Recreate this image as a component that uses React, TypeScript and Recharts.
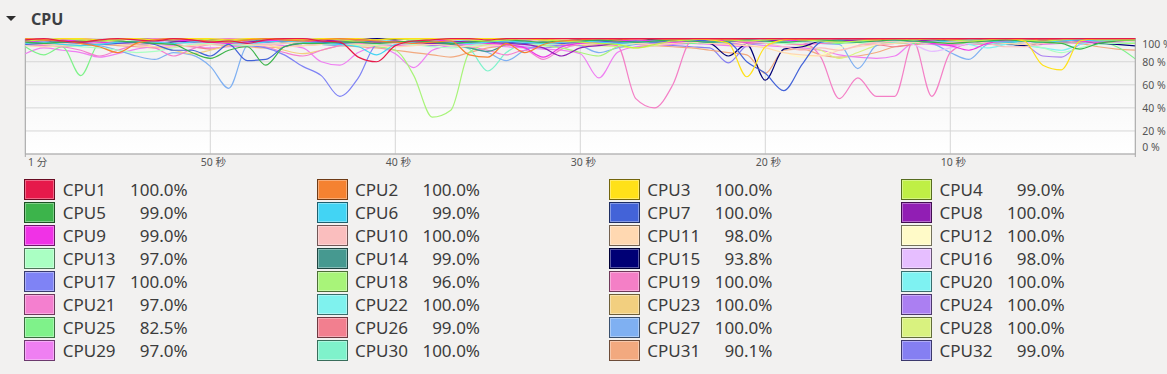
import { LineChart, Line, XAxis, YAxis, CartesianGrid, ReferenceLine } from "recharts";

// CPU usage history, one sample per second, oldest (1 minute ago) first
const cpu1 = [99,100,98,97,99,100,99,98,100,99, 97,98,96,99,100,100,98,97,84,80, 94,98,99,100,100,99,100,100,100,100, 100,100,100,100,100,100,100,100,100,100, 100,100,100,100,100,100,100,100,100,100, 100,100,100,100,100,100,100,100,100,100, 100];
const cpu2 = [100,99,98,96,93,88,96,99,100,99, 98,97,99,100,99,98,99,100,99,98, 97,96,97,98,86,84,96,88,95,98, 99,100,99,100,100,99,100,100,99,100, 100,100,99,100,100,100,99,100,100,100, 99,100,100,100,100,99,100,100,100,100, 100];
const cpu3 = [100,99,100,100,99,100,100,99,100,100, 100,99,100,100,100,99,100,100,100,99, 100,100,100,99,100,100,100,100,99,100, 100,100,100,100,100,100,100,99,96,67, 93,99,100,100,100,100,100,100,100,100, 100,100,100,100,98,77,73,98,100,100, 100];
const cpu4 = [98,99,100,99,98,99,100,99,99,100, 99,98,99,100,99,99,100,99,98,99, 100,99,99,100,99,98,99,100,99,98, 97,96,95,92,95,98,99,100,99,98, 99,100,99,98,97,98,99,100,99,100, 99,98,99,100,99,98,99,100,99,99, 99];
const cpu5 = [97,96,97,98,99,98,97,96,95,88, 83,90,93,77,93,96,96,97,97,96, 97,98,97,96,97,98,99,98,97,98, 98,99,98,97,98,99,98,97,98,99, 98,97,98,99,98,97,98,99,98,97, 96,97,98,99,98,97,96,91,96,98, 99];
const cpu6 = [96,97,95,94,95,97,98,97,96,97, 98,97,96,97,98,97,96,95,93,86, 95,97,98,97,96,97,98,97,96,97, 98,97,96,97,98,99,98,97,98,99, 98,97,98,99,98,97,98,99,98,97, 98,99,98,97,98,97,98,99,98,99, 99];
const cpu7 = [95,96,97,96,95,96,97,95,90,90, 85,95,81,82,93,96,97,96,97,98, 97,98,97,96,97,98,97,96,97,96, 97,98,97,98,97,98,99,98,97,80, 70,55,78,97,99,100,99,100,99,100, 99,100,99,100,100,99,100,100,100,100, 100];
const cpu8 = [98,99,98,97,98,99,100,99,98,97, 98,99,98,97,98,99,98,99,98,97, 98,97,96,97,98,97,96,95,92,85, 92,94,96,97,98,99,98,97,98,99, 98,99,100,99,98,99,100,99,98,99, 100,99,98,99,100,99,98,99,100,100, 100];
const cpu9 = [97,98,99,98,97,96,97,98,99,98, 97,96,97,98,99,98,97,98,99,98, 97,98,99,98,97,96,95,92,84,93, 96,97,98,99,98,97,98,99,98,97, 98,99,98,99,100,99,98,99,98,96, 94,90,96,98,99,98,99,98,97,98, 99];
const cpu10 = [96,95,96,97,98,97,96,95,96,97, 98,97,96,95,96,97,98,99,98,97, 96,97,98,97,96,97,98,99,98,97, 96,97,98,99,98,97,98,99,98,97, 96,93,90,92,90,94,97,98,99,98, 97,98,96,93,93,96,98,99,100,100, 100];
const cpu11 = [94,93,94,95,96,95,94,93,93,94, 95,96,95,94,93,94,95,96,95,94, 93,94,95,94,93,94,95,96,97,96, 95,96,97,96,95,96,97,96,95,94, 92,88,86,85,90,93,95,96,97,96, 97,98,97,96,95,96,97,98,97,98, 98];
const cpu12 = [98,97,96,97,98,99,98,97,96,97, 98,99,98,97,96,97,98,99,98,97, 98,99,98,97,98,99,98,97,98,99, 98,97,98,99,98,97,98,99,98,95, 92,88,84,86,92,96,98,99,98,99, 100,99,98,99,100,99,98,99,100,100, 100];
const cpu13 = [96,95,94,93,92,90,88,89,92,95, 96,95,94,95,96,97,96,95,94,95, 96,95,93,92,94,96,97,96,95,96, 97,96,95,96,97,98,97,96,97,98, 97,96,97,98,97,96,97,98,97,96, 97,98,97,96,95,92,88,92,95,96, 97];
const cpu14 = [99,98,97,98,99,98,97,98,99,98, 97,98,99,98,97,98,99,98,97,96, 97,98,96,95,92,89,95,97,98,97, 98,99,98,97,98,99,98,97,98,99, 98,99,100,99,98,99,100,99,98,99, 98,99,98,97,98,97,98,99,98,99, 99];
const cpu15 = [98,99,98,97,98,99,97,96,97,98, 99,98,99,100,99,98,99,98,99,100, 99,98,96,96,97,98,99,98,99,98, 99,98,99,100,99,98,97,96,85,95, 64,91,93,98,99,100,99,100,99,98, 99,98,97,96,94,96,97,98,96,95, 93.8];
const cpu16 = [97,98,97,96,97,98,99,98,97,96, 97,98,97,96,97,98,97,96,97,98, 97,96,97,98,97,96,95,94,95,96, 97,96,95,96,97,98,97,96,97,98, 97,98,97,98,97,96,97,98,95,89, 92,96,97,98,97,96,97,98,97,98, 98];
const cpu17 = [98,97,96,97,98,97,96,95,96,97, 96,95,94,92,86,76,68,50,66,95, 97,98,97,96,97,98,99,98,97,98, 99,98,97,98,99,100,99,98,99,98, 99,100,99,98,99,100,99,98,99,100, 99,98,99,100,99,98,99,100,100,100, 100];
const cpu18 = [97,96,97,98,97,96,97,98,97,96, 97,98,97,96,97,98,97,96,95,93, 90,68,32,38,88,95,96,95,94,92, 88,85,93,96,97,98,97,96,97,98, 97,96,97,98,97,96,97,96,97,98, 97,96,97,98,97,96,97,98,97,96, 96];
const cpu19 = [99,98,99,100,99,98,99,100,99,98, 99,100,99,98,99,100,99,98,99,100, 99,98,99,100,99,98,99,98,97,98, 97,95,94,48,40,60,98,99,100,99, 98,99,97,84,48,66,50,50,98,50, 88,96,98,99,100,99,98,99,100,100, 100];
const cpu20 = [98,99,98,97,98,99,100,99,98,97, 98,99,98,97,98,99,98,97,98,99, 98,97,98,99,98,97,98,99,98,97, 98,99,98,97,98,99,98,97,98,99, 98,99,98,97,98,99,98,97,98,99, 98,97,96,95,94,92,90,95,98,99, 100];
const cpu21 = [95,94,93,90,85,90,94,92,85,91, 95,96,95,93,88,85,90,94,96,95, 94,95,96,95,93,90,86,90,82,91, 95,96,97,96,95,96,97,96,95,96, 97,96,95,96,97,96,95,96,97,96, 95,96,97,96,95,96,97,96,97,96, 97];
const cpu22 = [99,98,97,98,99,98,97,98,99,98, 97,96,97,98,99,98,97,96,95,94, 96,98,99,98,97,98,99,98,97,98, 99,98,97,98,99,98,97,98,99,98, 99,98,97,98,99,98,97,98,99,98, 97,95,92,95,98,99,98,99,100,100, 100];
const cpu23 = [97,96,95,96,97,96,95,93,90,87, 90,94,96,95,90,87,90,94,96,97, 98,97,96,97,98,97,96,97,98,99, 98,97,98,99,98,97,98,99,98,97, 98,99,98,99,98,99,100,99,98,99, 100,99,98,99,100,99,100,100,100,100, 100];
const cpu24 = [98,97,98,99,98,97,96,97,98,97, 96,97,98,97,96,97,98,99,98,97, 96,95,94,95,96,97,95,93,92,94, 96,97,98,97,96,97,98,97,96,95, 96,97,98,99,98,97,98,99,98,97, 98,99,98,97,95,85,84,95,98,99, 100];
const cpu25 = [93,86,93,68,96,97,96,95,96,97, 98,97,96,97,98,97,96,97,98,97, 96,97,98,97,96,97,98,97,96,97, 98,97,96,97,98,97,96,97,98,97, 96,97,98,97,96,97,98,97,96,97, 98,97,96,97,98,97,96,97,97,93, 82.5];
const cpu26 = [97,98,97,96,97,98,97,96,95,93, 91,94,97,98,97,96,97,98,97,96, 97,98,97,96,97,98,97,96,97,98, 97,96,97,98,97,96,97,98,97,96, 97,98,97,96,97,96,95,93,95,97, 98,97,96,97,98,97,98,99,98,99, 99];
const cpu27 = [94,95,96,95,94,90,85,82,88,86, 76,57,94,96,97,96,95,94,95,96, 97,96,95,94,92,88,81,90,95,96, 94,88,92,95,96,97,96,97,98,97, 96,97,98,96,95,74,94,97,98,96, 88,82,95,97,98,99,98,99,100,100, 100];
const cpu28 = [99,98,99,100,99,98,99,100,99,98, 99,100,99,98,99,100,99,98,99,100, 99,98,99,100,99,98,97,96,97,96, 95,94,93,92,94,96,97,98,99,98, 97,96,94,90,83,88,94,97,98,99, 98,99,100,99,98,99,100,99,100,100, 100];
const cpu29 = [87,92,90,88,84,87,91,93,94,93, 92,93,94,95,94,92,80,77,88,93, 87,75,90,94,95,94,93,92,91,90, 87,66,88,93,94,95,96,95,94,93, 94,93,92,90,86,84,83,85,96,95, 94,95,96,95,94,95,96,97,96,97, 97];
const cpu30 = [98,97,98,99,98,97,98,99,98,97, 98,99,98,97,98,99,98,97,96,97, 98,97,96,95,91,72,88,96,98,99, 98,97,98,99,98,97,98,99,98,97, 98,99,98,97,98,99,98,97,98,99, 98,99,98,97,98,99,98,99,100,100, 100];
const cpu31 = [95,94,93,94,95,94,93,92,93,94, 95,94,93,92,93,94,95,94,93,92, 90,88,86,84,88,92,94,95,96,95, 94,95,96,95,94,93,92,90,88,86, 70,90,91,86,84,85,88,93,95,96, 97,96,95,96,97,96,97,96,93,91, 90.1];
const cpu32 = [97,96,97,98,97,96,95,96,97,98, 97,96,97,98,97,96,97,98,97,96, 97,98,97,96,97,98,97,96,95,94, 95,96,97,96,95,94,93,92,79,94, 97,98,97,96,97,98,97,96,97,98, 97,96,97,98,97,96,97,98,97,98, 99];

const cpuSeries = [
  cpu1, cpu2, cpu3, cpu4, cpu5, cpu6, cpu7, cpu8,
  cpu9, cpu10, cpu11, cpu12, cpu13, cpu14, cpu15, cpu16,
  cpu17, cpu18, cpu19, cpu20, cpu21, cpu22, cpu23, cpu24,
  cpu25, cpu26, cpu27, cpu28, cpu29, cpu30, cpu31, cpu32,
];

const cpuColors = [
  "#e6194b", "#f58231", "#ffe119", "#bfef45", "#3cb44b", "#42d4f4", "#4363d8", "#911eb4",
  "#f032e6", "#fabebe", "#ffd8b1", "#fffac8", "#aaffc3", "#469990", "#000075", "#e6beff",
  "#7f83f5", "#a8f479", "#f47fc6", "#7ef2f2", "#f47fcf", "#7ff2ee", "#f2cf7f", "#ab7ff2",
  "#7ff28a", "#f27f8f", "#7fb0f2", "#d9f27f", "#ef7ff2", "#7ff2cb", "#f2a97f", "#857ff2",
];

const timeTicks = [0, 10, 20, 30, 40, 50, 60];
const timeLabels = ["1 分", "50 秒", "40 秒", "30 秒", "20 秒", "10 秒", ""];
const pctTicks = [0, 20, 40, 60, 80, 100];
const pctLabels = ["0 %", "20 %", "40 %", "60 %", "80 %", "100 %"];

const rows = cpu1.map((_, i) => {
  const row: Record<string, number> = { t: i };
  cpuSeries.forEach((s, k) => {
    row[`cpu${k + 1}`] = s[i];
  });
  return row;
});

const FONT = "'Noto Sans', 'Noto Sans CJK JP', sans-serif";

function darken(hex: string, f: number) {
  const n = parseInt(hex.slice(1), 16);
  const r = Math.round(((n >> 16) & 255) * f);
  const g = Math.round(((n >> 8) & 255) * f);
  const b = Math.round((n & 255) * f);
  return `rgb(${r},${g},${b})`;
}

const TimeTick = (props: any) => {
  const { x, y, payload } = props;
  const idx = timeTicks.indexOf(payload.value);
  const first = idx === 0;
  return (
    <g>
      {(first || payload.value === 60) && (
        <line x1={x} x2={x} y1={y} y2={y + 3} stroke="#a8a8a8" />
      )}
      <text
        x={first ? x + 2.7 : x + 3}
        y={y + 11.5}
        textAnchor={first ? "start" : "middle"}
        fontSize={10.5}
        fontFamily={FONT}
        fill="#555"
      >
        {timeLabels[idx]}
      </text>
    </g>
  );
};

const PctTick = (props: any) => {
  const { x, y, payload } = props;
  const idx = pctTicks.indexOf(payload.value);
  let dy = 4;
  if (payload.value === 100) dy = 9;
  if (payload.value === 0) dy = -3;
  return (
    <text x={x + 7} y={y + dy} fontSize={10.5} fontFamily={FONT} fill="#555">
      {pctLabels[idx]}
    </text>
  );
};

export default function App() {
  return (
    <div
      style={{
        position: "absolute",
        left: 0,
        top: 0,
        width: 1167,
        height: 374,
        background: "#f2f1f0",
        overflow: "hidden",
        fontFamily: FONT,
      }}
    >
      {/* header */}
      <svg style={{ position: "absolute", left: 0, top: 0 }} width={30} height={30}>
        <polygon points="6,16 16,16 11,21" fill="#2e2e2e" />
      </svg>
      <div
        style={{
          position: "absolute",
          left: 31,
          top: 7,
          fontSize: 16,
          fontWeight: 700,
          color: "#3c3f44",
          lineHeight: "24px",
        }}
      >
        CPU
      </div>

      <div style={{ position: "absolute", left: 0, top: 0 }}>
        <LineChart
          width={1167}
          height={176}
          data={rows}
          margin={{ top: 38.7, right: 0, bottom: 0, left: 25.3 }}
        >
          <defs>
            <linearGradient id="plotBg" x1="0" y1="0" x2="0" y2="1">
              <stop offset="0%" stopColor="#f1f1f1" />
              <stop offset="100%" stopColor="#ffffff" />
            </linearGradient>
          </defs>
          <CartesianGrid stroke="#d6d6d6" fill="url(#plotBg)" />
          <XAxis
            dataKey="t"
            type="number"
            domain={[0, 60]}
            ticks={timeTicks}
            height={22}
            tickSize={0}
            tickMargin={0}
            tickLine={false}
            axisLine={{ stroke: "#a8a8a8" }}
            tick={<TimeTick />}
            interval={0}
          />
          <YAxis
            orientation="right"
            domain={[0, 100]}
            ticks={pctTicks}
            width={31.7}
            tickSize={0}
            tickMargin={0}
            tickLine={false}
            axisLine={{ stroke: "#a8a8a8" }}
            tick={<PctTick />}
            interval={0}
          />
          <ReferenceLine x={0} stroke="#a8a8a8" />
          {cpuSeries
            .map((_, k) => k)
            .reverse()
            .map((k) => (
              <Line
                key={k}
                type="monotone"
                dataKey={`cpu${k + 1}`}
                stroke={cpuColors[k]}
                strokeWidth={1.2}
                dot={false}
                activeDot={false}
                isAnimationActive={false}
              />
            ))}
        </LineChart>
      </div>

      {/* legend */}
      {cpuSeries.map((s, k) => {
        const col = k % 4;
        const row = Math.floor(k / 4);
        const left = 24.3 + col * 292.3;
        const top = 179.3 + row * 23;
        return (
          <div key={k} style={{ position: "absolute", left, top, width: 170, height: 22 }}>
            <div
              style={{
                position: "absolute",
                left: 0,
                top: 0,
                width: 29,
                height: 19,
                background: cpuColors[k],
                border: `1px solid ${darken(cpuColors[k], 0.45)}`,
                boxShadow: "inset 0 0 0 1px rgba(255,255,255,0.35)",
              }}
            />
            <div
              style={{
                position: "absolute",
                left: 38.4,
                top: 0,
                fontSize: 17,
                lineHeight: "22px",
                color: "#3c3c3c",
                whiteSpace: "nowrap",
              }}
            >
              {`CPU${k + 1}`}
            </div>
            <div
              style={{
                position: "absolute",
                right: 170 - 163.4,
                top: 0,
                fontSize: 17,
                lineHeight: "22px",
                color: "#3c3c3c",
                whiteSpace: "nowrap",
                textAlign: "right",
              }}
            >
              {`${s[s.length - 1].toFixed(1)}%`}
            </div>
          </div>
        );
      })}
    </div>
  );
}
